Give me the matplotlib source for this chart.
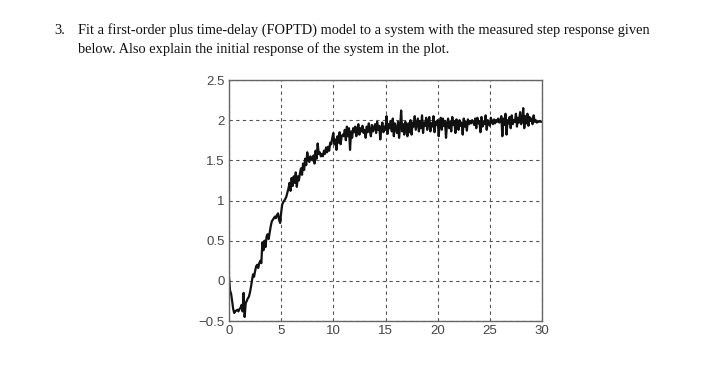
import numpy as np
import matplotlib
matplotlib.use("Agg")
import matplotlib.pyplot as plt

# measured step response, sampled every 0.1 time unit from t=0 to t=30
y_values = [
    0.05, -0.12, -0.16, -0.25, -0.35, -0.40, -0.38, -0.37, -0.36, -0.38,
    -0.35, -0.34, -0.30, -0.38, -0.15, -0.45, -0.28, -0.25, -0.22, -0.20,
    -0.15, -0.08, 0.00, 0.08, 0.05, 0.12, 0.18, 0.20, 0.16, 0.22,
    0.25, 0.22, 0.48, 0.38, 0.50, 0.42, 0.55, 0.58, 0.52, 0.60,
    0.68, 0.74, 0.76, 0.78, 0.80, 0.78, 0.82, 0.84, 0.76, 0.72,
    0.85, 0.95, 0.98, 1.00, 1.02, 1.05, 1.10, 1.15, 1.22, 1.12,
    1.28, 1.18, 1.30, 1.22, 1.35, 1.17, 1.30, 1.25, 1.34, 1.40,
    1.32, 1.46, 1.38, 1.52, 1.44, 1.60, 1.50, 1.48, 1.55, 1.52,
    1.50, 1.56, 1.46, 1.62, 1.52, 1.71, 1.58, 1.60, 1.55, 1.58,
    1.55, 1.62, 1.58, 1.66, 1.60, 1.67, 1.62, 1.72, 1.70, 1.78,
    1.84, 1.70, 1.76, 1.63, 1.80, 1.72, 1.85, 1.70, 1.80, 1.82,
    1.80, 1.88, 1.75, 1.92, 1.80, 1.90, 1.63, 1.86, 1.78, 1.90,
    1.85, 1.92, 1.80, 1.88, 1.95, 1.82, 1.90, 1.86, 1.93, 1.84,
    1.88, 1.78, 1.92, 1.85, 1.96, 1.87, 1.80, 1.94, 1.86, 1.90,
    1.95, 1.84, 1.98, 1.88, 1.93, 1.76, 1.90, 1.97, 1.85, 1.92,
    1.88, 2.05, 1.83, 1.95, 1.90, 1.99, 1.86, 2.02, 1.80, 1.96,
    1.90, 1.84, 1.98, 1.78, 1.92, 2.12, 1.86, 1.95, 1.82, 1.98,
    1.90, 1.80, 1.96, 1.85, 2.00, 1.82, 1.97, 1.92, 2.05, 1.88,
    1.95, 2.02, 1.86, 1.99, 1.90, 2.06, 1.84, 1.97, 1.93, 2.03,
    1.88, 1.98, 2.04, 1.86, 1.96, 1.92, 2.05, 1.85, 1.98, 1.94,
    2.00, 1.80, 1.97, 2.03, 1.88, 2.02, 1.93, 1.99, 1.78, 1.96,
    2.02, 1.90, 1.98, 1.86, 2.04, 1.94, 1.99, 1.84, 2.01, 1.95,
    1.88, 2.00, 1.93, 1.97, 1.82, 2.02, 1.92, 1.98, 1.87, 2.01,
    1.95, 1.99, 1.96, 2.00, 1.98, 1.94, 2.02, 1.90, 2.03, 1.96,
    1.99, 1.85, 2.04, 1.92, 1.98, 1.95, 2.06, 1.88, 2.00, 1.97,
    1.93, 2.03, 1.98, 1.95, 2.01, 1.96, 2.00, 1.98, 2.02, 1.97,
    1.99, 2.05, 1.80, 2.02, 1.94, 2.08, 1.82, 2.00, 1.96, 2.04,
    1.90, 2.06, 1.95, 2.00, 1.98, 2.08, 1.92, 2.03, 1.97, 2.10,
    1.95, 2.00, 2.15, 1.90, 2.05, 1.96, 2.08, 1.93, 2.04, 1.99,
    2.02, 1.95, 2.06, 1.98, 2.00, 1.97, 1.98, 1.98, 1.99, 1.98,
    1.98,
]
t_start, t_step = 0.0, 0.1
x_ticks = [0, 5, 10, 15, 20, 25, 30]
y_ticks = [-0.5, 0, 0.5, 1, 1.5, 2, 2.5]
y_tick_labels = ["\u22120.5", "0", "0.5", "1", "1.5", "2", "2.5"]
question_line1 = "Fit a first-order plus time-delay (FOPTD) model to a system with the measured step response given"
question_line2 = "below. Also explain the initial response of the system in the plot."

t = t_start + t_step * np.arange(len(y_values))

fig = plt.figure(figsize=(7.22, 3.91), dpi=100)
fig.patch.set_facecolor("white")

serif = ["Liberation Serif", "DejaVu Serif"]
fs = 10.4
fig.text(54 / 722, 1 - 30 / 391, "3.", fontsize=fs, family=serif, va="center", ha="left", color="#111111")
fig.text(78 / 722, 1 - 30 / 391, question_line1, fontsize=fs, family=serif, va="center", ha="left", color="#111111")
fig.text(78 / 722, 1 - 49 / 391, question_line2, fontsize=fs, family=serif, va="center", ha="left", color="#111111")

ax = fig.add_axes([229 / 722, 1 - 321 / 391, (542 - 229) / 722, (321 - 80) / 391])
ax.plot(t, y_values, color="#111111", lw=1.6)
ax.set_xlim(0, 30)
ax.set_ylim(-0.5, 2.5)
ax.set_xticks(x_ticks)
ax.set_xticklabels([str(v) for v in x_ticks])
ax.set_yticks(y_ticks)
ax.set_yticklabels(y_tick_labels)
ax.grid(True, linestyle=(0, (3, 3)), color="#555555", linewidth=0.8)
for s in ax.spines.values():
    s.set_color("#666666")
    s.set_linewidth(1.0)
ax.tick_params(axis="both", length=0, pad=3, labelsize=9.5, labelcolor="#444444")
for lab in ax.get_xticklabels() + ax.get_yticklabels():
    lab.set_family(["Liberation Sans", "DejaVu Sans"])

fig.savefig("out.png", dpi=100, facecolor="white")
